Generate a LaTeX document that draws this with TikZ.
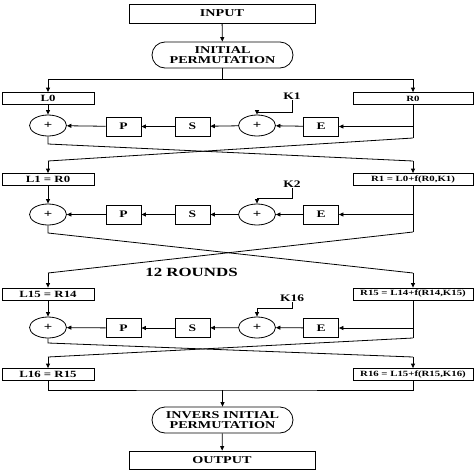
\documentclass[tikz,border=0pt]{standalone}
\usepackage{fontspec}
\newfontfamily\desfont{Liberation Serif}[FakeStretch=1.35]
\usetikzlibrary{arrows.meta,shapes.geometric}

\begin{document}
\begin{tikzpicture}[x=1pt, y=-1pt,
  every node/.style={inner sep=0pt},
  flow/.style={line width=0.8pt},
  arr/.style={line width=0.8pt, -{Triangle[length=4.5pt, width=4pt]}},
  iobox/.style={draw, line width=0.8pt, minimum width=186pt, minimum height=19pt,
    font=\desfont\bfseries\fontsize{10.5}{11}\selectfont},
  permbox/.style={draw, line width=0.8pt, rounded corners=13pt, minimum width=141pt,
    minimum height=26pt, align=center, font=\desfont\bfseries\fontsize{10.5}{10.5}\selectfont},
  lbox/.style={draw, line width=0.8pt, minimum width=92pt, minimum height=12pt,
    font=\desfont\bfseries\fontsize{9.5}{10}\selectfont},
  rbox/.style={draw, line width=0.8pt, minimum width=120pt, minimum height=12pt,
    font=\desfont\bfseries\fontsize{8}{9}\selectfont},
  fbox/.style={draw, line width=0.8pt, minimum width=35pt, minimum height=19pt,
    font=\desfont\bfseries\fontsize{10}{11}\selectfont},
  xorc/.style={draw, ellipse, line width=0.8pt, minimum width=37pt, minimum height=21pt,
    font=\desfont\bfseries\fontsize{11}{12}\selectfont},
  keylab/.style={font=\desfont\bfseries\fontsize{10}{11}\selectfont}]
\useasboundingbox (0,0) rectangle (474,474);

% input and initial permutation
\node[iobox] (input) at (222,13.5) {INPUT};
\node[permbox] (ip) at (222.5,55) {INITIAL\\PERMUTATION};
\coordinate (split) at (222.5,79);
\node[lbox] (l0) at (48,98.5) {L0};
\node[rbox] (r0) at (413,98.5) {R0};
\draw[arr] (input) -- (ip);
\draw[flow] (ip) -- (split);
\draw[arr] (split) -| (l0);
\draw[arr] (split) -| (r0);

% round 1
\node[xorc] (xl1) at (48,125.5) {+};
\node[fbox] (p1) at (123.5,126.5) {P};
\node[fbox] (s1) at (192.5,126.5) {S};
\node[xorc] (xr1) at (257,125.5) {+};
\node[fbox] (e1) at (321,126.5) {E};
\node[keylab, anchor=south] (k1) at (292,100) {K1};
\coordinate (kc1) at (292,112);
\coordinate (rt1) at (413,126.5);
\coordinate (rb1) at (413,138);
\coordinate (lb1) at (48,144);
\coordinate (lx1) at (48,161);
\coordinate (rx1) at (413,161);
\node[lbox] (l1) at (48,179.5) {L1 = R0};
\node[rbox] (r1) at (413,179.5) {R1 = L0+f(R0,K1)};
\draw[arr] (l0) -- (xl1);
\draw[flow] (r0) -- (rb1);
\draw[arr] (rt1) -- (e1);
\draw[arr] (e1) -- (xr1);
\draw[arr] (xr1) -- (s1);
\draw[arr] (s1) -- (p1);
\draw[arr] (p1) -- (xl1);
\draw[arr] (k1) -- (kc1) -| (xr1);
\draw[flow] (xl1) -- (lb1) -- (rx1);
\draw[flow] (rb1) -- (lx1);
\draw[arr] (lx1) -- (l1);
\draw[arr] (rx1) -- (r1);

% round 2
\node[xorc] (xl2) at (48,214.5) {+};
\node[fbox] (p2) at (123.5,214.5) {P};
\node[fbox] (s2) at (192.5,214.5) {S};
\node[xorc] (xr2) at (257,214.5) {+};
\node[fbox] (e2) at (321,214.5) {E};
\node[keylab, anchor=south] (k2) at (292,188) {K2};
\coordinate (kc2) at (292,198);
\coordinate (rt2) at (413,214.5);
\coordinate (rb2) at (413,232);
\coordinate (lb2) at (48,233);
\coordinate (lx2) at (48,273);
\coordinate (rx2) at (413,273);
\node[keylab, font=\desfont\bfseries\fontsize{12.5}{13}\selectfont] (rounds) at (191.5,272) {12 ROUNDS};
\node[lbox] (l15) at (48,294) {L15 = R14};
\node[rbox] (r15) at (413,294) {R15 = L14+f(R14,K15)};
\draw[arr] (l1) -- (xl2);
\draw[flow] (r1) -- (rb2);
\draw[arr] (rt2) -- (e2);
\draw[arr] (e2) -- (xr2);
\draw[arr] (xr2) -- (s2);
\draw[arr] (s2) -- (p2);
\draw[arr] (p2) -- (xl2);
\draw[arr] (k2) -- (kc2) -| (xr2);
\draw[flow] (xl2) -- (lb2) -- (rx2);
\draw[flow] (rb2) -- (lx2);
\draw[arr] (lx2) -- (l15);
\draw[arr] (rx2) -- (r15);

% round 16
\node[xorc] (xl3) at (48,327.5) {+};
\node[fbox] (p3) at (123.5,328) {P};
\node[fbox] (s3) at (192.5,328) {S};
\node[xorc] (xr3) at (257,327.5) {+};
\node[fbox] (e3) at (321,328) {E};
\node[keylab, anchor=south] (k3) at (292,302) {K16};
\coordinate (kc3) at (292,308);
\coordinate (rt3) at (413,328);
\coordinate (rb3) at (413,338);
\coordinate (lb3) at (48,343);
\coordinate (lx3) at (48,357);
\coordinate (rx3) at (413,357);
\node[lbox] (l16) at (48,374.5) {L16 = R15};
\node[rbox] (r16) at (413,374.5) {R16 = L15+f(R15,K16)};
\draw[arr] (l15) -- (xl3);
\draw[flow] (r15) -- (rb3);
\draw[arr] (rt3) -- (e3);
\draw[arr] (e3) -- (xr3);
\draw[arr] (xr3) -- (s3);
\draw[arr] (s3) -- (p3);
\draw[arr] (p3) -- (xl3);
\draw[arr] (k3) -- (kc3) -| (xr3);
\draw[flow] (xl3) -- (lb3) -- (rx3);
\draw[flow] (rb3) -- (lx3);
\draw[arr] (lx3) -- (l16);
\draw[arr] (rx3) -- (r16);

% inverse permutation and output
\coordinate (join) at (222.5,390);
\node[permbox] (iip) at (222.5,420) {INVERS INITIAL\\PERMUTATION};
\node[iobox, minimum height=18pt] (output) at (222,460) {OUTPUT};
\draw[flow] (l16) |- (join) -| (r16);
\draw[arr] (join) -- (iip);
\draw[arr] (iip) -- (output);
\end{tikzpicture}
\end{document}
